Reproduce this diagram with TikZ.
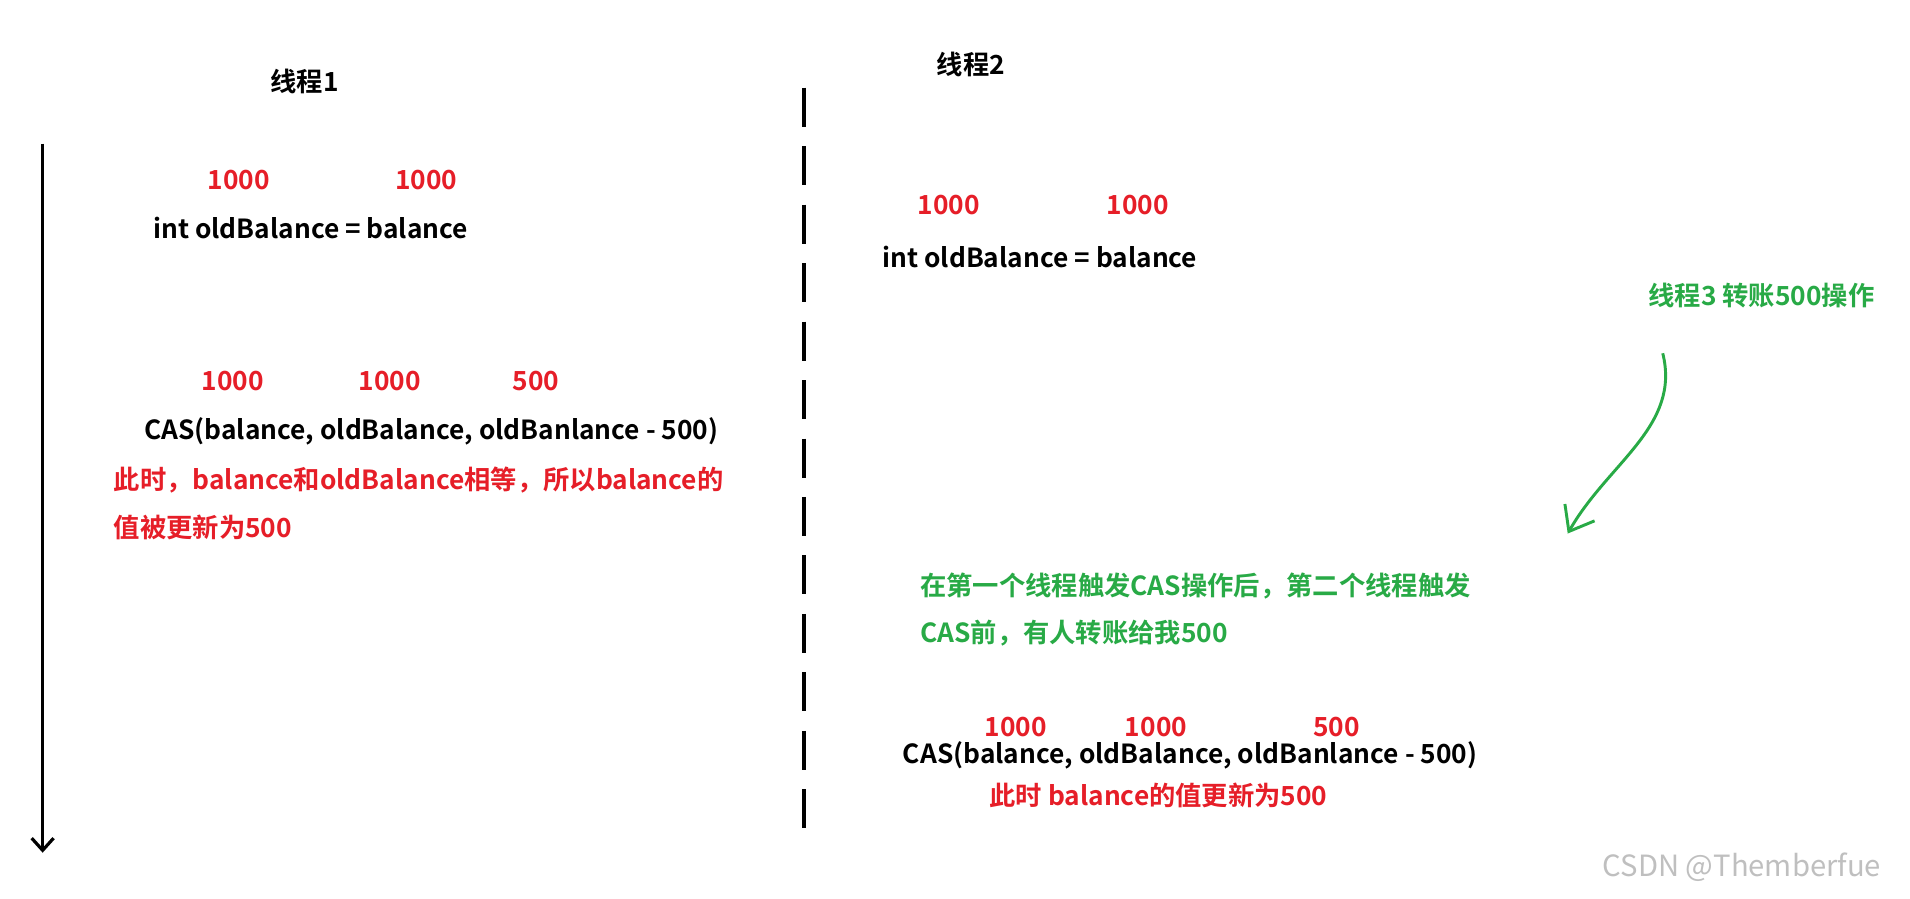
\documentclass[tikz,border=0pt]{standalone}
\usepackage{fontspec}
\setmainfont{Noto Sans CJK SC}[BoldFont={Noto Sans CJK SC Bold}]
\usetikzlibrary{arrows.meta}
\definecolor{rd}{RGB}{230,30,40}
\definecolor{gr}{RGB}{40,170,70}
\tikzset{t/.style={font=\bfseries\fontsize{10.8}{12}\selectfont,inner sep=0pt},
 r/.style={t,text=rd}, g/.style={t,text=gr}}
\begin{document}
\begin{tikzpicture}[x=0.5pt,y=-0.5pt]
\useasboundingbox[fill=white] (0,0) rectangle (1568,738);
\node[t] (h1) at (250,67) {线程1};
\node[t] (h2) at (797,53) {线程2};
\coordinate (a0) at (35,118); \coordinate (a1) at (35,700);
\draw[line width=1.3pt,-{Straight Barb[length=5pt,width=9pt]}] (a0) -- (a1);
\coordinate (d0) at (660,72); \coordinate (d1) at (660,682);
\draw[line width=1.3pt,dash pattern=on 16pt off 8pt] (d0) -- (d1);
\node[r] (v1) at (196,148) {1000};
\node[r] (v2) at (350,148) {1000};
\node[t] (c1) at (255,187) {int oldBalance = balance};
\node[r] (v3) at (191,313) {1000};
\node[r] (v4) at (320,313) {1000};
\node[r] (v5) at (440,313) {500};
\node[t] (c2) at (354,354) {CAS(balance, oldBalance, oldBanlance - 500)};
\node[r,anchor=west] (n1) at (93,394) {此时，balance和oldBalance相等，所以balance的};
\node[r,anchor=west] (n2) at (93,433) {值被更新为500};
\node[r] (w1) at (779,168) {1000};
\node[r] (w2) at (934,168) {1000};
\node[t,anchor=west] (c3) at (724,211) {int oldBalance = balance};
\node[g] (g1) at (1446,243) {线程3 转账500操作};
\coordinate (s0) at (1365,290); \coordinate (s1) at (1287,438);
\draw[gr,line width=1.2pt,-{Straight Barb[length=9pt,width=14pt]}] (s0) .. controls (1380,350) and (1320,380) .. (s1);
\node[g,anchor=west] (g2) at (755,481) {在第一个线程触发CAS操作后，第二个线程触发};
\node[g,anchor=west] (g3) at (755,520) {CAS前，有人转账给我500};
\node[r] (w3) at (834,597) {1000};
\node[r] (w4) at (949,597) {1000};
\node[r] (w5) at (1097,597) {500};
\node[t] (c4) at (977,620) {CAS(balance, oldBalance, oldBanlance - 500)};
\node[r] (n3) at (951,653) {此时 balance的值更新为500};
\node[font=\fontsize{12}{14}\selectfont,text=black!25,inner sep=0pt] (wm) at (1430,712) {CSDN @Themberfue};
\end{tikzpicture}
\end{document}
